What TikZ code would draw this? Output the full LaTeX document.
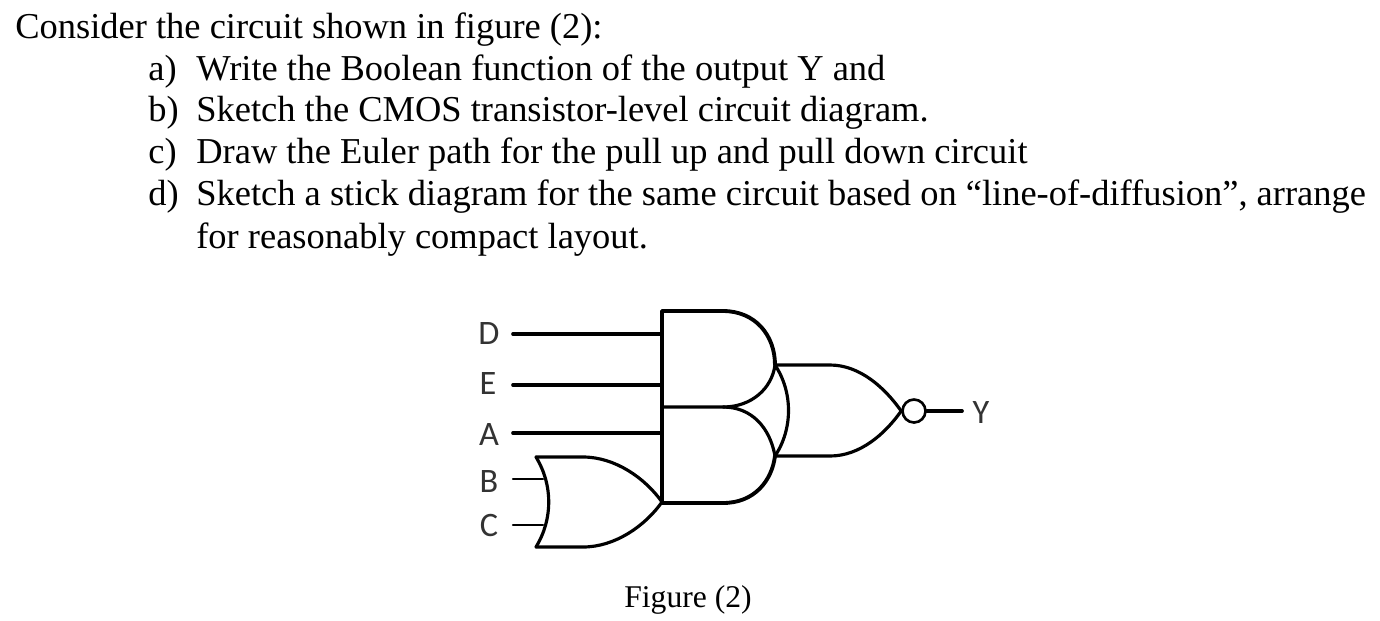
\documentclass[tikz,border=0pt]{standalone}
\usepackage{fontspec}
\setmainfont{Liberation Serif}
\newfontfamily\labelfont{Carlito}
\begin{document}
\begin{tikzpicture}[x=0.02cm,y=-0.02cm,line join=round,line cap=round,
	txt/.style={anchor=base west,inner sep=0pt,font=\fontsize{20.75pt}{24pt}\selectfont},
	sig/.style={inner sep=0pt,font=\labelfont\fontsize{19.5pt}{22pt}\selectfont,text=black!80},
	wire/.style={line width=2.1pt},
	thinwire/.style={line width=1.4pt},
	gate/.style={line width=1.8pt}]
	\useasboundingbox (0,0) rectangle (1380,620);
	% text
	\node[txt] (head) at (15,38) {Consider the circuit shown in figure (2):};
	\node[txt] (ia) at (148,80) {a)};
	\node[txt] (ta) at (196,80) {Write the Boolean function of the output Y and};
	\node[txt] (ib) at (148,121) {b)};
	\node[txt] (tb) at (196,121) {Sketch the CMOS transistor-level circuit diagram.};
	\node[txt] (ic) at (148,163) {c)};
	\node[txt] (tc) at (196,163) {Draw the Euler path for the pull up and pull down circuit};
	\node[txt] (id) at (148,205) {d)};
	\node[txt] (td) at (196,205) {Sketch a stick diagram for the same circuit based on “line-of-diffusion”, arrange};
	\node[txt] (te) at (196,248) {for reasonably compact layout.};
	\node[txt,font=\fontsize{18pt}{21pt}\selectfont] (fig) at (624,607) {Figure (2)};
	% inputs
	\node[sig] (D) at (489,333) {D};
	\node[sig] (E) at (488,383) {E};
	\node[sig] (A) at (489,434) {A};
	\node[sig] (B) at (489,481) {B};
	\node[sig] (C) at (489,525) {C};
	\coordinate (dOut) at (513,334);
	\coordinate (eOut) at (513,385);
	\coordinate (aOut) at (513,433);
	\coordinate (bOut) at (513,479);
	\coordinate (cOut) at (513,525);
	\coordinate (dIn) at (662,334);
	\coordinate (eIn) at (662,385);
	\coordinate (aIn) at (662,433);
	\coordinate (bIn) at (543,479);
	\coordinate (cIn) at (543,525);
	\draw[wire] (dOut) -- (dIn);
	\draw[wire] (eOut) -- (eIn);
	\draw[wire] (aOut) -- (aIn);
	\draw[thinwire] (bOut) -- (bIn);
	\draw[thinwire] (cOut) -- (cIn);
	% gates
	\coordinate (andOne) at (775,365);
	\coordinate (andTwo) at (775,456);
	\coordinate (orOut) at (662,502);
	\coordinate (yEnd) at (962,411);
	\draw[gate,line width=2.2pt] (723,311) -- (662,311) -- (662,503) -- (723,503);
	\draw[gate,line width=2.2pt] (723,311) .. controls (755,311) and (775,335) .. (andOne);
	\draw[gate] (andOne) .. controls (772,388) and (752,407) .. (723,407) -- (662,407);
	\draw[gate] (723,407) .. controls (752,407) and (770,428) .. (andTwo);
	\draw[gate,line width=2.2pt] (andTwo) .. controls (772,480) and (755,503) .. (723,503);
	\draw[gate] (536,457) -- (583,457) .. controls (615,457) and (645,478) .. (orOut);
	\draw[gate] (536,547) -- (583,547) .. controls (615,547) and (645,526) .. (orOut);
	\draw[gate] (536,457) .. controls (553,485) and (553,519) .. (536,547);
	% output gate
	\node[circle,draw,line width=1.5pt,inner sep=0pt,minimum size=0.46cm] (inv) at (914,411) {};
	\node[sig] (Y) at (981,412) {Y};
	\draw[gate] (andOne) -- (830,365) .. controls (860,365) and (885,388) .. (inv.west);
	\draw[gate] (andTwo) -- (830,456) .. controls (860,456) and (885,434) .. (inv.west);
	\draw[gate] (andOne) .. controls (793,392) and (793,429) .. (andTwo);
	\draw[wire] (inv.east) -- (yEnd);
\end{tikzpicture}
\end{document}
